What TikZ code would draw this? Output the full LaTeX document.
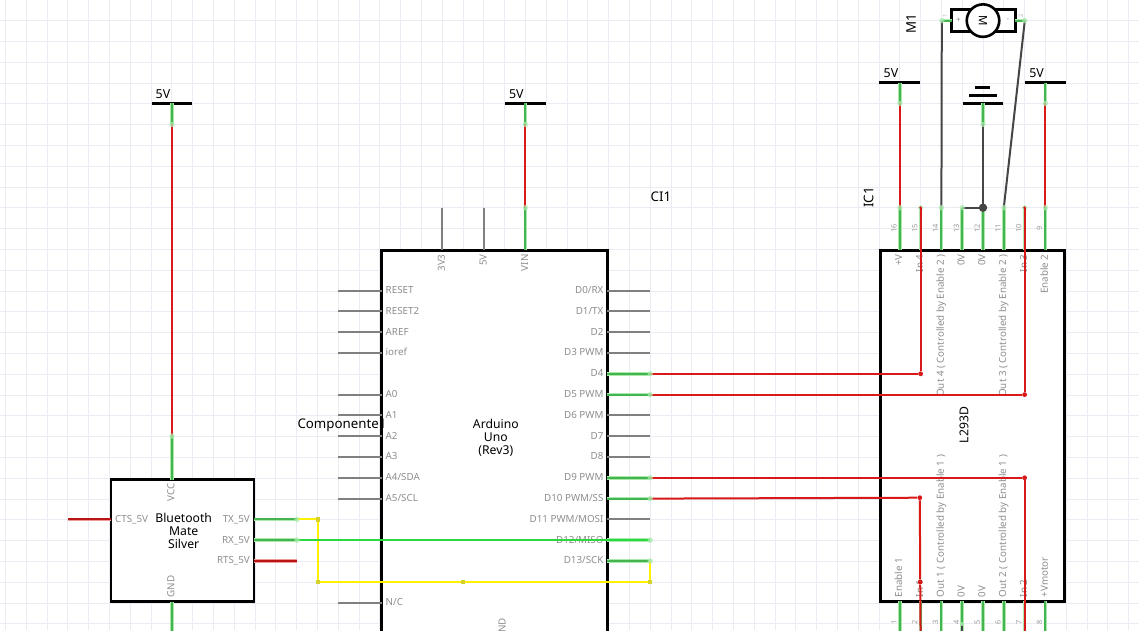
\documentclass[tikz,border=0pt]{standalone}
\usepackage{fontspec}
\setmainfont{Noto Sans}
\definecolor{gridc}{HTML}{E9EDF3}
\definecolor{pinc}{HTML}{808080}
\definecolor{labc}{HTML}{8E8E8E}
\definecolor{grnc}{HTML}{45B34E}
\definecolor{glowc}{HTML}{A8EAAC}
\definecolor{redc}{HTML}{D91818}
\definecolor{redg}{HTML}{EE9A9A}
\definecolor{brg}{HTML}{2BD93F}
\definecolor{yelc}{HTML}{FFF000}
\definecolor{yeld}{HTML}{D6D02E}
\definecolor{darkw}{HTML}{454545}
\tikzset{
  box/.style={draw=black,fill=white,line width=2.7pt,outer sep=0pt,inner sep=0pt,anchor=north west,line join=miter},
  pinwire/.style={draw=pinc,line width=2pt},
  grnwire/.style={preaction={draw=glowc,line width=3.6pt},draw=grnc,line width=2pt},
  redpin/.style={preaction={draw=redg,line width=3.8pt},draw=redc!85!black,line width=2pt},
  redwire/.style={draw=redc,line width=2pt},
  brgwire/.style={draw=brg,line width=2pt},
  yelwire/.style={draw=yelc,line width=2pt},
  darkwire/.style={draw=darkw,line width=2pt},
  plab/.style={text=labc,font=\fontsize{9.8}{11}\selectfont,inner sep=0pt},
  nlab/.style={text=labc!90,font=\fontsize{7.4}{8}\selectfont,inner sep=0pt,rotate=90},
  ttl/.style={text=black,font=\fontsize{12.2}{13.2}\selectfont,inner sep=0pt,align=center},
  bigttl/.style={text=black,font=\fontsize{13.3}{14}\selectfont,inner sep=0pt},
  pwr/.style={draw=black,line width=2.6pt},
  glowdot/.style={circle,fill=glowc,inner sep=0pt,minimum size=5.4pt},
  reddot/.style={circle,fill=redc,inner sep=0pt,minimum size=4.8pt},
  yeldot/.style={rectangle,fill=yeld,inner sep=0pt,minimum size=4.4pt}
}
\newcommand\ardL[3]{\coordinate (#1) at (338.2,#2);\draw[pinwire] (#1) -- (#1 -| ard.west);\node[plab,anchor=base west] (#1-t) at (385.5,#2+2.9) {#3};}
\newcommand\ardR[3]{\coordinate (#1) at (650.2,#2);\node[plab,anchor=base east] (#1-t) at (603.6,#2+2.9) {#3};\draw[pinwire] (#1) -- (#1 -| ard.east);}
\newcommand\ardT[3]{\coordinate (#1) at (#2,207.7);\draw[pinwire] (#1) -- (#1 |- ard.north);\node[plab,rotate=90,anchor=base east] (#1-t) at (#2+2.7,254.3) {#3};}
\newcommand\icT[4]{\coordinate (#1) at (#2,207.7);\draw[grnwire] (#1) -- (#1 |- ic.north);\node[plab,rotate=90,anchor=base east] (#1-t) at (#2+2.4,254.3) {#4};\node[nlab,anchor=base] (#1-n) at (#2-3.2,228.2) {#3};}
\newcommand\icB[4]{\coordinate (#1) at (#2,643);\draw[grnwire] (#1) -- (#1 |- ic.south);\node[plab,rotate=90,anchor=base west] (#1-t) at (#2+2.4,597.3) {#4};\node[nlab,anchor=base] (#1-n) at (#2-3.2,622.8) {#3};}
\begin{document}
\begin{tikzpicture}[x=1pt,y=-1pt]
\useasboundingbox (0,0) rectangle (1139,630);
\clip (0,0) rectangle (1139,630);
\fill[white] (0,0) rectangle (1139,630);
% grid
\foreach \k in {0,...,54} \draw[gridc,line width=.8pt] ({5.4+20.8*\k},0) -- ({5.4+20.8*\k},630);
\foreach \k in {0,...,29} \draw[gridc,line width=.8pt] (0,{20.6+20.8*\k}) -- (1139,{20.6+20.8*\k});
% bodies
\node[box,minimum width=143pt,minimum height=122.2pt] (bt) at (111,479.5) {};
\node[box,minimum width=225.6pt,minimum height=420pt] (ard) at (381.7,250.4) {};
\node[box,minimum width=184.3pt,minimum height=351pt] (ic) at (880.4,250.4) {};
% Arduino pins
\ardL{rst}{290.6}{RESET}
\ardL{rsttwo}{311.4}{RESET2}
\ardL{aref}{332.2}{AREF}
\ardL{ioref}{353}{ioref}
\ardL{azero}{394.6}{A0}
\ardL{aone}{415.4}{A1}
\ardL{atwo}{436.2}{A2}
\ardL{athree}{457}{A3}
\ardL{afour}{477.8}{A4/SDA}
\ardL{afive}{498.6}{A5/SCL}
\ardL{nc}{602.6}{N/C}
\ardR{dzero}{290.6}{D0/RX}
\ardR{done}{311.4}{D1/TX}
\ardR{dtwo}{332.2}{D2}
\ardR{dthree}{353}{D3 PWM}
\ardR{dfour}{373.8}{D4}
\ardR{dfive}{394.6}{D5 PWM}
\ardR{dsix}{415.4}{D6 PWM}
\ardR{dseven}{436.2}{D7}
\ardR{deight}{457}{D8}
\ardR{dnine}{477.8}{D9 PWM}
\ardR{dten}{498.6}{D10 PWM/SS}
\ardR{deleven}{519.4}{D11 PWM/MOSI}
\ardR{dtwelve}{540.2}{D12/MISO}
\ardR{dthirteen}{561}{D13/SCK}
\ardT{vthree}{442.2}{3V3}
\ardT{vfive}{483.8}{5V}
\ardT{vin}{525.4}{VIN}
\draw[grnwire] (vin) -- (vin |- ard.north);
\foreach \p in {dfour,dfive,dnine,dten,dtwelve,dthirteen} \draw[grnwire] (\p) -- (\p -| ard.east);
\node[plab,rotate=90,anchor=base east] (gndlab) at (505.5,618) {GND};
% L293D pins
\icT{pa}{899.8}{16}{+V}
\icT{pb}{920.6}{15}{In 4}
\icT{pc}{941.4}{14}{Out 4 ( Controlled by Enable 2 )}
\icT{pd}{962.2}{13}{0V}
\icT{pe}{983}{12}{0V}
\icT{pf}{1003.8}{11}{Out 3 ( Controlled by Enable 2 )}
\icT{pg}{1024.6}{10}{In 3}
\icT{ph}{1045.4}{9}{Enable 2}
\icB{qa}{899.8}{1}{Enable 1}
\icB{qb}{920.6}{2}{In 1}
\icB{qc}{941.4}{3}{Out 1 ( Controlled by Enable 1 )}
\icB{qd}{962.2}{4}{0V}
\icB{qe}{983}{5}{0V}
\icB{qf}{1003.8}{6}{Out 2 ( Controlled by Enable 1 )}
\icB{qg}{1024.6}{7}{In 2}
\icB{qh}{1045.4}{8}{+Vmotor}
% Bluetooth pins
\coordinate (bvcc) at (172,436);
\coordinate (bgnd) at (172,645);
\coordinate (btx) at (297,519.4);
\coordinate (brx) at (297,540.2);
\coordinate (brts) at (297,561);
\coordinate (bcts) at (68,519.4);
\draw[grnwire] (bvcc) -- (bvcc |- bt.north);
\draw[grnwire] (bgnd) -- (bgnd |- bt.south);
\draw[grnwire] (btx) -- (btx -| bt.east);
\draw[grnwire] (brx) -- (brx -| bt.east);
\draw[redpin] (brts) -- (brts -| bt.east);
\draw[redpin] (bcts) -- (bcts -| bt.west);
\node[plab,rotate=90,anchor=base east] (lvcc) at (174.4,483) {VCC};
\node[plab,rotate=90,anchor=base west] (lgnd) at (174.4,597.5) {GND};
\node[plab,anchor=base west] (lcts) at (115,522.3) {CTS\_5V};
\node[plab,anchor=base east] (ltx) at (250,522.3) {TX\_5V};
\node[plab,anchor=base east] (lrx) at (250,543.1) {RX\_5V};
\node[plab,anchor=base east] (lrts) at (250,563.9) {RTS\_5V};
% power symbols
\coordinate (sa) at (172,103.4);
\coordinate (sb) at (525.4,103.4);
\coordinate (sc) at (899.8,82.6);
\coordinate (sd) at (1045.4,82.6);
\coordinate (se) at (983,103.4);
\foreach \s in {sa,sb,sc,sd,se} \draw[pwr] ([xshift=-20.4pt]\s) -- ([xshift=20.4pt]\s);
\draw[pwr] (969,95.4) -- (997,95.4);
\draw[pwr] (975.4,87.6) -- (990.4,87.6);
\node[ttl,font=\fontsize{12.4}{13}\selectfont] (va) at (163,94.2) {5V};
\node[ttl,font=\fontsize{12.4}{13}\selectfont] (vb) at (516.4,94.2) {5V};
\node[ttl,font=\fontsize{12.4}{13}\selectfont] (vc) at (891,73.2) {5V};
\node[ttl,font=\fontsize{12.4}{13}\selectfont] (vd) at (1036.5,73.2) {5V};
% motor
\coordinate (ma) at (941.8,20.6);
\coordinate (mb) at (1024.8,20.6);
\node[draw=black,fill=white,line width=2.6pt,minimum width=63.5pt,minimum height=21.6pt,inner sep=0pt,outer sep=0pt] (mbody) at (983.5,20.4) {};
\draw[grnwire] (ma) -- (mbody.west |- ma);
\draw[grnwire] (mb) -- (mbody.east |- mb);
\node[draw=black,fill=white,circle,line width=2.6pt,minimum size=32.5pt,inner sep=0pt] (mcirc) at (983,20.6) {};
\node[inner sep=0pt,rotate=-90,font=\bfseries\fontsize{11.5}{12}\selectfont] (mm) at (983,20.6) {M};
\node[plab,font=\fontsize{8}{9}\selectfont] (mp) at (958.4,20.6) {+};
\node[plab,font=\fontsize{8}{9}\selectfont] (mn) at (1008,20.6) {-};
\node[nlab,text=labc!60,font=\fontsize{6}{7}\selectfont] (mpa) at (945,15.5) {1};
\node[nlab,text=labc!60,font=\fontsize{6}{7}\selectfont] (mpb) at (1021,15.5) {2};
% wires
\coordinate (ga) at (983,124.4);
\coordinate (pa5) at (899.8,103.4);
\coordinate (pd5) at (1045.4,103.4);
\coordinate (sb5) at (525.4,124.4);
\coordinate (sa5) at (172,124.4);
\draw[grnwire] (sa) -- (sa5);
\draw[grnwire] (sb) -- (sb5);
\draw[grnwire] (sc) -- (pa5);
\draw[grnwire] (sd) -- (pd5);
\draw[grnwire] (se) -- (ga);
\draw[redwire] (sa5) -- (bvcc);
\draw[redwire] (sb5) -- (vin);
\draw[redwire] (pa5) -- (pa);
\draw[redwire] (pd5) -- (ph);
\draw[darkwire] (ga) -- (pe);
\draw[darkwire] (pd) -- (pe);
\draw[darkwire] (ma) -- (pc);
\draw[darkwire] (mb) -- (pf);
\draw[darkwire] (962.2,625) -- (962.2,640);
% signal wires
\node[reddot] (ra) at (920.6,373.8) {};
\node[reddot] (rb) at (1024.6,394.6) {};
\node[reddot] (rc) at (1024.6,477.8) {};
\node[reddot] (rd) at (919.8,497.7) {};
\node[reddot] (re) at (920.2,582) {};
\draw[redwire] (dfour) -- (ra) -- (pb);
\draw[redwire] (dfive) -- (rb) -- (pg);
\draw[redwire] (dnine) -- (rc) -- (qg);
\draw[redwire] (dten) -- (rd) -- (re) -- (qb);
\coordinate (ya) at (318,519.4);
\coordinate (yb) at (318,581.8);
\coordinate (yc) at (463,581.8);
\coordinate (yd) at (650.2,581.8);
\draw[yelwire] (btx) -- (ya) -- (yb) -- (yc) -- (yd) -- (dthirteen);
\draw[brgwire] (brx) -- (dtwelve);
\foreach \c in {ya,yb,yc,yd} \node[yeldot] at (\c) {};
% wire end glows
\foreach \c in {sa5,sb5,pa5,pd5,ga,bvcc,btx,brx,vin,pa,pc,pd,pf,ph,dfour,dfive,dnine,dten,dtwelve,dthirteen,ma,mb}
  \node[glowdot,opacity=.75] at (\c) {};
\foreach \c in {pb,pg} \node[glowdot,opacity=.6] at (\c) {};
\draw[redwire] (pb) -- ++(0,6);
\draw[redwire] (pg) -- ++(0,6);
\node[reddot,minimum size=3pt] at (pb) {};
\node[reddot,minimum size=3pt] at (pg) {};
\node[glowdot,minimum size=4pt,opacity=.8] at (962.2,624) {};
\node[circle,fill=darkw,inner sep=0pt,minimum size=8.4pt] (jn) at (pe) {};
% titles
\node[ttl] (tbt) at (183.7,531) {Bluetooth\\Mate\\Silver};
\node[ttl] (tard) at (495.8,437.6) {Arduino\\Uno\\(Rev3)};
\node[ttl,rotate=90] (tic) at (964,425) {L293D};
\node[bigttl] (tcomp) at (342,425.4) {Componente1};
\node[bigttl] (tci) at (661,197) {CI1};
\node[bigttl,rotate=90] (tic1) at (868.5,197.5) {IC1};
\node[bigttl,rotate=90] (tm1) at (911,24) {M1};
\end{tikzpicture}
\end{document}
